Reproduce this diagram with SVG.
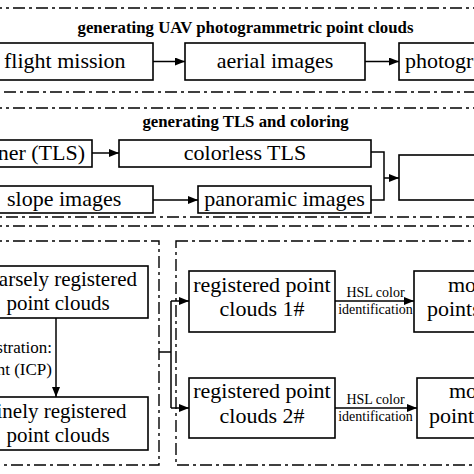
<svg xmlns="http://www.w3.org/2000/svg" width="474" height="474" viewBox="0 0 474 474">
<defs>
<style>
.box{fill:#fff;stroke:#000;stroke-width:1.6}
.dd{fill:none;stroke:#000;stroke-width:1.4;stroke-dasharray:12 4 3 4}
.t{font-family:"Liberation Serif","Times New Roman",serif;font-size:22px;fill:#000}
.t21{font-family:"Liberation Serif","Times New Roman",serif;font-size:21px;fill:#000}
.s{font-family:"Liberation Serif","Times New Roman",serif;font-size:17px;fill:#000}
.h{font-family:"Liberation Serif","Times New Roman",serif;font-size:14px;fill:#000}
.title{font-family:"Liberation Serif","Times New Roman",serif;font-size:16.8px;font-weight:bold;fill:#000}
.c{fill:none;stroke:#000;stroke-width:1.5}
</style>
<marker id="ah" markerUnits="userSpaceOnUse" markerWidth="10" markerHeight="8" refX="10" refY="4" orient="auto">
<path d="M0,0 L10,4 L0,8 z" fill="#000"/>
</marker>
</defs>
<rect width="474" height="474" fill="#fff"/>
<g id="frames">
<rect class="dd" x="-10" y="8" width="500" height="84"/>
<rect class="dd" x="-10" y="108" width="500" height="109"/>
<rect class="dd" x="-10" y="226" width="500" height="260"/>
<rect class="dd" x="-10" y="241" width="169" height="224"/>
<rect class="dd" x="176" y="241" width="320" height="224"/>
<text class="title" x="245.5" y="33" text-anchor="middle">generating UAV photogrammetric point clouds</text>
<text class="title" x="245.5" y="127" text-anchor="middle">generating TLS and coloring</text>
</g>
<g id="flight">
<rect class="box" x="-20" y="43" width="173" height="37"/>
<text class="t" x="4" y="68">flight mission</text>
</g>
<g id="aerial">
<rect class="box" x="185" y="43" width="180" height="37"/>
<text class="t" x="275" y="68" text-anchor="middle">aerial images</text>
</g>
<g id="photo">
<rect class="box" x="399" y="43" width="100" height="37"/>
<text class="t" x="405" y="68">photogrammetric point clouds</text>
</g>
<g id="tls">
<rect class="box" x="-20" y="140" width="112" height="27"/>
<text class="t" x="85" y="160" text-anchor="end">scanner (TLS)</text>
</g>
<g id="colorless">
<rect class="box" x="119" y="140" width="252" height="27"/>
<text class="t" x="245" y="160" text-anchor="middle">colorless TLS</text>
</g>
<g id="slope">
<rect class="box" x="-20" y="186" width="173" height="27"/>
<text class="t" x="7" y="206">slope images</text>
</g>
<g id="panoramic">
<rect class="box" x="198" y="186" width="173" height="27"/>
<text class="t" x="284.5" y="206" text-anchor="middle">panoramic images</text>
</g>
<g id="colored">
<rect class="box" x="399" y="155" width="100" height="45"/>
</g>
<g id="coarse">
<rect class="box" x="-40" y="266" width="188" height="52"/>
<text class="t21" x="58" y="286" text-anchor="middle">coarsely registered</text>
<text class="t21" x="58" y="310" text-anchor="middle">point clouds</text>
</g>
<g id="fine">
<rect class="box" x="-40" y="397" width="188" height="53"/>
<text class="t21" x="58" y="418" text-anchor="middle">finely registered</text>
<text class="t21" x="58" y="442" text-anchor="middle">point clouds</text>
</g>
<g id="reg1">
<rect class="box" x="189" y="271" width="146" height="61"/>
<text class="t" x="262" y="292" text-anchor="middle">registered point</text>
<text class="t" x="262" y="316" text-anchor="middle">clouds 1#</text>
</g>
<g id="reg2">
<rect class="box" x="189" y="378" width="146" height="60"/>
<text class="t" x="262" y="398" text-anchor="middle">registered point</text>
<text class="t" x="262" y="423" text-anchor="middle">clouds 2#</text>
</g>
<g id="mo1">
<rect class="box" x="414" y="271" width="90" height="61"/>
<text class="t" x="448" y="292">mo</text>
<text class="t" x="427" y="316">points</text>
</g>
<g id="mo2">
<rect class="box" x="417" y="378" width="90" height="60"/>
<text class="t" x="449" y="398">mo</text>
<text class="t" x="429" y="423">point</text>
</g>
<g id="connectors">
<line class="c" x1="153" y1="61.5" x2="185" y2="61.5" marker-end="url(#ah)"/>
<line class="c" x1="365" y1="61.5" x2="399" y2="61.5" marker-end="url(#ah)"/>
<line class="c" x1="92" y1="153" x2="119" y2="153" marker-end="url(#ah)"/>
<line class="c" x1="153" y1="200" x2="198" y2="200" marker-end="url(#ah)"/>
<polyline class="c" points="371,152 384,152 384,200 371,200"/>
<line class="c" x1="384" y1="178" x2="399" y2="178" marker-end="url(#ah)"/>
<line class="c" x1="56" y1="318" x2="56" y2="397" marker-end="url(#ah)"/>
<text class="s" x="52" y="353" text-anchor="end">registration:</text>
<text class="s" x="52" y="375" text-anchor="end">point (ICP)</text>
<polyline class="c" points="159,352 171,352"/>
<line class="c" x1="171" y1="301" x2="171" y2="408"/>
<line class="c" x1="171" y1="301" x2="189" y2="301" marker-end="url(#ah)"/>
<line class="c" x1="171" y1="408" x2="189" y2="408" marker-end="url(#ah)"/>
<line class="c" x1="335" y1="301" x2="414" y2="301" marker-end="url(#ah)"/>
<line class="c" x1="335" y1="408" x2="417" y2="408" marker-end="url(#ah)"/>
<text class="h" x="375.5" y="297" text-anchor="middle">HSL color</text>
<text class="h" x="375.5" y="314" text-anchor="middle">identification</text>
<text class="h" x="375.5" y="404" text-anchor="middle">HSL color</text>
<text class="h" x="375.5" y="421" text-anchor="middle">identification</text>
</g>
</svg>
